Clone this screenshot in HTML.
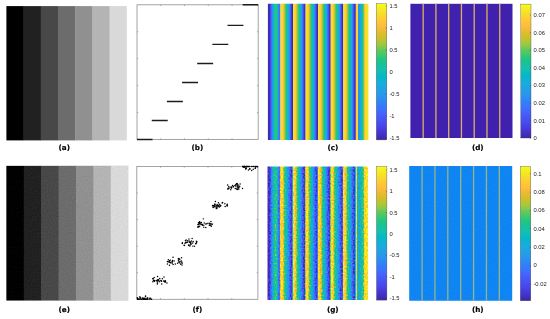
<!DOCTYPE html>
<html lang="en"><head><meta charset="utf-8"><title>Figure</title>
<style>html,body{margin:0;padding:0;background:#fff}body{width:550px;height:319px;overflow:hidden}svg{display:block}.lab{font-family:"DejaVu Sans","Liberation Sans",sans-serif;font-weight:bold;font-size:7.2px;fill:#000;stroke:#000;stroke-width:0.18px;text-anchor:middle}.tk{font-family:"Liberation Sans",sans-serif;font-size:5.8px;fill:#1c1c1c}</style></head><body>
<svg width="550" height="319" viewBox="0 0 550 319">
<defs>
<linearGradient id="cb" x1="0" y1="0" x2="0" y2="1">
<stop offset="0" stop-color="#f9fb15"/>
<stop offset="0.03" stop-color="#f6ef20"/>
<stop offset="0.06" stop-color="#f5e327"/>
<stop offset="0.09" stop-color="#f9d62d"/>
<stop offset="0.12" stop-color="#feca33"/>
<stop offset="0.16" stop-color="#febe3c"/>
<stop offset="0.19" stop-color="#f1ba37"/>
<stop offset="0.22" stop-color="#debc2a"/>
<stop offset="0.25" stop-color="#c8c129"/>
<stop offset="0.28" stop-color="#afc637"/>
<stop offset="0.31" stop-color="#8dc949"/>
<stop offset="0.34" stop-color="#60c95b"/>
<stop offset="0.38" stop-color="#3bc86f"/>
<stop offset="0.41" stop-color="#20c582"/>
<stop offset="0.44" stop-color="#16c395"/>
<stop offset="0.47" stop-color="#17c0a7"/>
<stop offset="0.5" stop-color="#10beb9"/>
<stop offset="0.53" stop-color="#01b9c6"/>
<stop offset="0.56" stop-color="#0cb3d3"/>
<stop offset="0.59" stop-color="#1aacdd"/>
<stop offset="0.62" stop-color="#21a3e3"/>
<stop offset="0.66" stop-color="#269ae9"/>
<stop offset="0.69" stop-color="#2c90f0"/>
<stop offset="0.72" stop-color="#2e85f8"/>
<stop offset="0.75" stop-color="#347afd"/>
<stop offset="0.78" stop-color="#3f6efe"/>
<stop offset="0.81" stop-color="#4562fc"/>
<stop offset="0.84" stop-color="#4757f7"/>
<stop offset="0.88" stop-color="#484cef"/>
<stop offset="0.91" stop-color="#4741e5"/>
<stop offset="0.94" stop-color="#4536d5"/>
<stop offset="0.97" stop-color="#422ebf"/>
<stop offset="1" stop-color="#3e26a8"/>
</linearGradient>
<linearGradient id="sw" x1="0" y1="0" x2="1" y2="0">
<stop offset="0" stop-color="#f6e028"/>
<stop offset="0.07" stop-color="#f6de29"/>
<stop offset="0.15" stop-color="#f7dc2a"/>
<stop offset="0.2" stop-color="#fdcc32"/>
<stop offset="0.24" stop-color="#fdbd3d"/>
<stop offset="0.28" stop-color="#e4bb2c"/>
<stop offset="0.31" stop-color="#c1c32d"/>
<stop offset="0.34" stop-color="#9ec941"/>
<stop offset="0.37" stop-color="#66c959"/>
<stop offset="0.41" stop-color="#45c868"/>
<stop offset="0.45" stop-color="#2dc778"/>
<stop offset="0.49" stop-color="#18c48e"/>
<stop offset="0.53" stop-color="#17c1a2"/>
<stop offset="0.56" stop-color="#0abdbd"/>
<stop offset="0.6" stop-color="#0ab4d2"/>
<stop offset="0.64" stop-color="#1caadf"/>
<stop offset="0.67" stop-color="#249fe6"/>
<stop offset="0.71" stop-color="#2c8ff1"/>
<stop offset="0.74" stop-color="#317efb"/>
<stop offset="0.78" stop-color="#4465fd"/>
<stop offset="0.83" stop-color="#484ef1"/>
<stop offset="0.86" stop-color="#463ee1"/>
<stop offset="0.9" stop-color="#4330c5"/>
<stop offset="0.95" stop-color="#402bb7"/>
<stop offset="1" stop-color="#3e26a8"/>
</linearGradient>
<linearGradient id="sf" x1="0" y1="0" x2="1" y2="0">
<stop offset="0" stop-color="#3e26a8"/>
<stop offset="0.07" stop-color="#402ab4"/>
<stop offset="0.15" stop-color="#422ebe"/>
<stop offset="0.21" stop-color="#4848ec"/>
<stop offset="0.27" stop-color="#4367fd"/>
<stop offset="0.34" stop-color="#2d88f6"/>
<stop offset="0.4" stop-color="#20a4e3"/>
<stop offset="0.45" stop-color="#0ab4d2"/>
<stop offset="0.5" stop-color="#10beb9"/>
<stop offset="0.54" stop-color="#16c19d"/>
<stop offset="0.58" stop-color="#24c67f"/>
<stop offset="0.64" stop-color="#24c67f"/>
<stop offset="0.7" stop-color="#24c67f"/>
<stop offset="0.74" stop-color="#17c0ab"/>
<stop offset="0.78" stop-color="#05b6ce"/>
<stop offset="0.82" stop-color="#259ce7"/>
<stop offset="0.86" stop-color="#347afd"/>
<stop offset="0.93" stop-color="#3d70ff"/>
<stop offset="1" stop-color="#4367fd"/>
</linearGradient>
<linearGradient id="sl" x1="0" y1="0" x2="1" y2="0">
<stop offset="0" stop-color="#fad42e"/>
<stop offset="0.07" stop-color="#fad42e"/>
<stop offset="0.14" stop-color="#fad42e"/>
<stop offset="0.17" stop-color="#31c775"/>
<stop offset="0.2" stop-color="#2895ec"/>
<stop offset="0.25" stop-color="#2994ed"/>
<stop offset="0.3" stop-color="#2a92ee"/>
<stop offset="0.36" stop-color="#22a1e4"/>
<stop offset="0.42" stop-color="#15afd9"/>
<stop offset="0.48" stop-color="#10beb9"/>
<stop offset="0.55" stop-color="#1ac48b"/>
<stop offset="0.59" stop-color="#40c86c"/>
<stop offset="0.64" stop-color="#82c94d"/>
<stop offset="0.67" stop-color="#debd29"/>
<stop offset="0.7" stop-color="#fdcc32"/>
<stop offset="0.75" stop-color="#fad62d"/>
<stop offset="0.8" stop-color="#f6e028"/>
<stop offset="0.9" stop-color="#f5e227"/>
<stop offset="1" stop-color="#f5e427"/>
</linearGradient>
<linearGradient id="gw" x1="0" y1="0" x2="1" y2="0">
<stop offset="0" stop-color="#e8e8e8"/>
<stop offset="0.09" stop-color="#e9e9e9"/>
<stop offset="0.18" stop-color="#ebebeb"/>
<stop offset="0.22" stop-color="#dbdbdb"/>
<stop offset="0.26" stop-color="#cccccc"/>
<stop offset="0.3" stop-color="#b8b8b8"/>
<stop offset="0.33" stop-color="#a3a3a3"/>
<stop offset="0.39" stop-color="#959595"/>
<stop offset="0.45" stop-color="#878787"/>
<stop offset="0.52" stop-color="#777777"/>
<stop offset="0.58" stop-color="#666666"/>
<stop offset="0.64" stop-color="#555555"/>
<stop offset="0.7" stop-color="#454545"/>
<stop offset="0.77" stop-color="#303030"/>
<stop offset="0.85" stop-color="#1c1c1c"/>
<stop offset="0.93" stop-color="#121212"/>
<stop offset="1" stop-color="#080808"/>
</linearGradient>
<linearGradient id="gf" x1="0" y1="0" x2="1" y2="0">
<stop offset="0" stop-color="#000000"/>
<stop offset="0.07" stop-color="#040404"/>
<stop offset="0.15" stop-color="#080808"/>
<stop offset="0.21" stop-color="#1d1d1d"/>
<stop offset="0.27" stop-color="#333333"/>
<stop offset="0.34" stop-color="#4a4a4a"/>
<stop offset="0.4" stop-color="#616161"/>
<stop offset="0.45" stop-color="#707070"/>
<stop offset="0.5" stop-color="#808080"/>
<stop offset="0.54" stop-color="#8c8c8c"/>
<stop offset="0.58" stop-color="#999999"/>
<stop offset="0.64" stop-color="#999999"/>
<stop offset="0.7" stop-color="#999999"/>
<stop offset="0.74" stop-color="#868686"/>
<stop offset="0.78" stop-color="#737373"/>
<stop offset="0.82" stop-color="#595959"/>
<stop offset="0.86" stop-color="#404040"/>
<stop offset="0.93" stop-color="#393939"/>
<stop offset="1" stop-color="#333333"/>
</linearGradient>
<linearGradient id="gl" x1="0" y1="0" x2="1" y2="0">
<stop offset="0" stop-color="#e6e6e6"/>
<stop offset="0.06" stop-color="#e6e6e6"/>
<stop offset="0.12" stop-color="#e6e6e6"/>
<stop offset="0.15" stop-color="#a3a3a3"/>
<stop offset="0.17" stop-color="#616161"/>
<stop offset="0.26" stop-color="#676767"/>
<stop offset="0.35" stop-color="#6e6e6e"/>
<stop offset="0.42" stop-color="#7a7a7a"/>
<stop offset="0.5" stop-color="#878787"/>
<stop offset="0.57" stop-color="#949494"/>
<stop offset="0.64" stop-color="#a1a1a1"/>
<stop offset="0.69" stop-color="#c6c6c6"/>
<stop offset="0.73" stop-color="#ebebeb"/>
<stop offset="0.86" stop-color="#eeeeee"/>
<stop offset="1" stop-color="#f2f2f2"/>
</linearGradient>
<filter id="soft" x="-5%" y="-5%" width="110%" height="110%"><feGaussianBlur stdDeviation="0.45 0"/></filter>
<filter id="nz" x="0" y="0" width="100%" height="100%" color-interpolation-filters="sRGB"><feTurbulence type="fractalNoise" baseFrequency="0.6" numOctaves="1" seed="3" result="t"/><feColorMatrix in="t" type="matrix" values="1 0 0 0 0  1 0 0 0 0  1 0 0 0 0  0 0 0 0 1" result="n"/><feComposite in="SourceGraphic" in2="n" operator="arithmetic" k1="0" k2="1" k3="0.52" k4="-0.26" result="s"/><feComponentTransfer in="s"><feFuncR type="table" tableValues="0.2422 0.2504 0.2578 0.2647 0.2706 0.2751 0.2783 0.2803 0.2813 0.2810 0.2795 0.2760 0.2699 0.2602 0.2440 0.2206 0.1963 0.1834 0.1786 0.1764 0.1687 0.1540 0.1460 0.1380 0.1248 0.1113 0.0952 0.0689 0.0297 0.0036 0.0067 0.0433 0.0790 0.0897 0.0900 0.0866 0.0900 0.1098 0.1508 0.2068 0.2714 0.3478 0.4344 0.5237 0.6139 0.6720 0.7242 0.7738 0.8203 0.8634 0.9035 0.9393 0.9728 0.9956 0.9970 0.9952 0.9892 0.9786 0.9676 0.9610 0.9597 0.9628 0.9691 0.9769"/><feFuncG type="table" tableValues="0.1504 0.1650 0.1818 0.1978 0.2147 0.2342 0.2559 0.2782 0.3006 0.3228 0.3447 0.3667 0.3892 0.4123 0.4358 0.4603 0.4847 0.5074 0.5289 0.5499 0.5703 0.5902 0.6091 0.6276 0.6459 0.6635 0.6798 0.6948 0.7082 0.7203 0.7312 0.7411 0.7475 0.7511 0.7553 0.7605 0.7663 0.7722 0.7773 0.7817 0.7858 0.7884 0.7893 0.7888 0.7871 0.7793 0.7698 0.7598 0.7498 0.7406 0.7330 0.7288 0.7298 0.7434 0.7659 0.7893 0.8136 0.8386 0.8639 0.8890 0.9135 0.9373 0.9606 0.9839"/><feFuncB type="table" tableValues="0.6603 0.7076 0.7511 0.7952 0.8364 0.8710 0.8991 0.9221 0.9414 0.9579 0.9717 0.9829 0.9906 0.9952 0.9988 0.9973 0.9892 0.9798 0.9682 0.9520 0.9359 0.9218 0.9079 0.8973 0.8883 0.8763 0.8598 0.8394 0.8163 0.7917 0.7660 0.7394 0.7083 0.6732 0.6379 0.6021 0.5653 0.5273 0.4888 0.4502 0.4098 0.3700 0.3330 0.2964 0.2605 0.2227 0.1910 0.1646 0.1535 0.1596 0.1774 0.2100 0.2394 0.2371 0.2199 0.2028 0.1885 0.1766 0.1643 0.1537 0.1423 0.1265 0.1064 0.0805"/><feFuncA type="linear" slope="0" intercept="1"/></feComponentTransfer></filter>
<filter id="ng" x="0" y="0" width="100%" height="100%" color-interpolation-filters="sRGB"><feTurbulence type="fractalNoise" baseFrequency="0.8" numOctaves="1" seed="5" result="t"/><feColorMatrix in="t" type="matrix" values="1 0 0 0 0  1 0 0 0 0  1 0 0 0 0  0 0 0 0 1" result="n"/><feComposite in="SourceGraphic" in2="n" operator="arithmetic" k1="0" k2="1" k3="0.1" k4="-0.05"/></filter>
<filter id="ng2" x="0" y="0" width="100%" height="100%" color-interpolation-filters="sRGB"><feTurbulence type="fractalNoise" baseFrequency="0.8" numOctaves="1" seed="9" result="t"/><feColorMatrix in="t" type="matrix" values="1 0 0 0 0  1 0 0 0 0  1 0 0 0 0  0 0 0 0 1" result="n"/><feComposite in="SourceGraphic" in2="n" operator="arithmetic" k1="0" k2="1" k3="0.06" k4="-0.03"/></filter>
</defs>
<rect width="550" height="319" fill="#fff"/>
<g shape-rendering="auto">
<rect x="6.4" y="6.1" width="17.5" height="134.3" fill="#000000"/>
<rect x="23.6" y="6.1" width="17.5" height="134.3" fill="#212121"/>
<rect x="40.8" y="6.1" width="17.5" height="134.3" fill="#484848"/>
<rect x="58" y="6.1" width="17.5" height="134.3" fill="#6c6c6c"/>
<rect x="75.2" y="6.1" width="17.5" height="134.3" fill="#909090"/>
<rect x="92.4" y="6.1" width="17.5" height="134.3" fill="#b4b4b4"/>
<rect x="109.6" y="6.1" width="17.2" height="134.3" fill="#d9d9d9"/>
</g>
<g filter="url(#ng)" shape-rendering="auto">
<rect x="6.4" y="165.9" width="17.69" height="134.6" fill="#000000"/>
<rect x="23.79" y="165.9" width="17.69" height="134.6" fill="#212121"/>
<rect x="41.17" y="165.9" width="17.69" height="134.6" fill="#484848"/>
<rect x="58.56" y="165.9" width="17.69" height="134.6" fill="#6c6c6c"/>
<rect x="75.94" y="165.9" width="17.69" height="134.6" fill="#909090"/>
<rect x="93.33" y="165.9" width="17.69" height="134.6" fill="#b4b4b4"/>
<rect x="110.71" y="165.9" width="17.39" height="134.6" fill="#d9d9d9"/>
</g>
<rect x="137" y="4.8" width="121.2" height="134.7" fill="none" stroke="#8e8e8e" stroke-width="0.8"/>
<path d="M160.76 139.5v-1.2M160.76 4.8v1.2M137 112.56h1.2M258.2 112.56h-1.2M184.53 139.5v-1.2M184.53 4.8v1.2M137 85.62h1.2M258.2 85.62h-1.2M208.29 139.5v-1.2M208.29 4.8v1.2M137 58.68h1.2M258.2 58.68h-1.2M232.06 139.5v-1.2M232.06 4.8v1.2M137 31.74h1.2M258.2 31.74h-1.2" stroke="#777" stroke-width="0.6" fill="none"/>
<path d="M137 139.5h15.55M151.75 120.48h15.95M166.9 101.47h15.95M182.05 82.45h15.95M197.2 63.43h15.95M212.35 44.42h15.95M227.5 25.4h15.95M242.65 4.8h15.55" stroke="#1c1c1c" stroke-width="1.4" fill="none"/>
<rect x="136.8" y="166.5" width="121.1" height="132.8" fill="none" stroke="#8e8e8e" stroke-width="0.8"/>
<path d="M160.55 299.3v-1.2M160.55 166.5v1.2M136.8 272.74h1.2M257.9 272.74h-1.2M184.29 299.3v-1.2M184.29 166.5v1.2M136.8 246.18h1.2M257.9 246.18h-1.2M208.04 299.3v-1.2M208.04 166.5v1.2M136.8 219.62h1.2M257.9 219.62h-1.2M231.78 299.3v-1.2M231.78 166.5v1.2M136.8 193.06h1.2M257.9 193.06h-1.2" stroke="#777" stroke-width="0.6" fill="none"/>
<g fill="#000">
<circle cx="141.7" cy="299.3" r="0.74"/>
<circle cx="137.9" cy="299.3" r="0.74"/>
<circle cx="144.91" cy="298.89" r="0.74"/>
<circle cx="144.48" cy="299.3" r="0.74"/>
<circle cx="137.37" cy="298.67" r="0.74"/>
<circle cx="138.17" cy="299.3" r="0.74"/>
<circle cx="143.23" cy="299.3" r="0.74"/>
<circle cx="140.18" cy="298.48" r="0.74"/>
<circle cx="146.3" cy="299.3" r="0.74"/>
<circle cx="142.8" cy="298.54" r="0.74"/>
<circle cx="151.58" cy="299.3" r="0.74"/>
<circle cx="141.18" cy="299.3" r="0.74"/>
<circle cx="138.98" cy="299.3" r="0.74"/>
<circle cx="149.15" cy="299.3" r="0.74"/>
<circle cx="139.54" cy="297.06" r="0.74"/>
<circle cx="142.44" cy="298.04" r="0.74"/>
<circle cx="145.09" cy="299.3" r="0.74"/>
<circle cx="139.92" cy="299.3" r="0.74"/>
<circle cx="147.1" cy="297.9" r="0.74"/>
<circle cx="145.66" cy="299.3" r="0.74"/>
<circle cx="143.66" cy="298.32" r="0.74"/>
<circle cx="147.38" cy="299.3" r="0.74"/>
<circle cx="140.5" cy="297.34" r="0.74"/>
<circle cx="150.05" cy="298.31" r="0.74"/>
<circle cx="147.84" cy="298.11" r="0.74"/>
<circle cx="138.59" cy="299.3" r="0.74"/>
<circle cx="143.13" cy="299.3" r="0.74"/>
<circle cx="144.2" cy="298.27" r="0.74"/>
<circle cx="137.39" cy="297.8" r="0.74"/>
<circle cx="145.47" cy="296.63" r="0.74"/>
<circle cx="150.05" cy="298.22" r="0.74"/>
<circle cx="145.8" cy="299.3" r="0.74"/>
<circle cx="145.58" cy="295.98" r="0.74"/>
<circle cx="151.1" cy="299.3" r="0.74"/>
<circle cx="143.98" cy="298.97" r="0.74"/>
<circle cx="147.42" cy="298.75" r="0.74"/>
<circle cx="161.73" cy="283.89" r="0.74"/>
<circle cx="156.25" cy="280.41" r="0.74"/>
<circle cx="157.78" cy="280.36" r="0.74"/>
<circle cx="158.93" cy="280.22" r="0.74"/>
<circle cx="154.48" cy="281.02" r="0.74"/>
<circle cx="163.57" cy="280.97" r="0.74"/>
<circle cx="153.9" cy="280.58" r="0.74"/>
<circle cx="165.13" cy="282.34" r="0.74"/>
<circle cx="153.16" cy="278.39" r="0.74"/>
<circle cx="165.31" cy="281.27" r="0.74"/>
<circle cx="164.34" cy="281.51" r="0.74"/>
<circle cx="158.22" cy="279.45" r="0.74"/>
<circle cx="157.37" cy="283.93" r="0.74"/>
<circle cx="154.22" cy="277.54" r="0.74"/>
<circle cx="154.6" cy="280.7" r="0.74"/>
<circle cx="159.28" cy="281.86" r="0.74"/>
<circle cx="160.86" cy="280.54" r="0.74"/>
<circle cx="158.28" cy="280.71" r="0.74"/>
<circle cx="157.53" cy="276.48" r="0.74"/>
<circle cx="162.39" cy="278.75" r="0.74"/>
<circle cx="159.74" cy="278.55" r="0.74"/>
<circle cx="152.75" cy="278.73" r="0.74"/>
<circle cx="165.55" cy="281.24" r="0.74"/>
<circle cx="164.02" cy="276.95" r="0.74"/>
<circle cx="157.88" cy="279.87" r="0.74"/>
<circle cx="161.54" cy="281.05" r="0.74"/>
<circle cx="152.88" cy="281.67" r="0.74"/>
<circle cx="154.39" cy="281.06" r="0.74"/>
<circle cx="157.09" cy="280.59" r="0.74"/>
<circle cx="154.23" cy="280.56" r="0.74"/>
<circle cx="153.47" cy="280.28" r="0.74"/>
<circle cx="165.17" cy="280.86" r="0.74"/>
<circle cx="161.23" cy="281.37" r="0.74"/>
<circle cx="157.2" cy="281.65" r="0.74"/>
<circle cx="157.45" cy="283.06" r="0.74"/>
<circle cx="166.97" cy="282.99" r="0.74"/>
<circle cx="174.13" cy="261.04" r="0.74"/>
<circle cx="168.62" cy="261.88" r="0.74"/>
<circle cx="172.26" cy="261.49" r="0.74"/>
<circle cx="169.52" cy="265.17" r="0.74"/>
<circle cx="167.42" cy="263.91" r="0.74"/>
<circle cx="169.29" cy="261.13" r="0.74"/>
<circle cx="175.3" cy="263.98" r="0.74"/>
<circle cx="181.89" cy="262.18" r="0.74"/>
<circle cx="180.14" cy="261.34" r="0.74"/>
<circle cx="172.63" cy="260.48" r="0.74"/>
<circle cx="169.6" cy="262.11" r="0.74"/>
<circle cx="178.87" cy="259.6" r="0.74"/>
<circle cx="172.07" cy="262.36" r="0.74"/>
<circle cx="181.98" cy="265.04" r="0.74"/>
<circle cx="179.98" cy="262.95" r="0.74"/>
<circle cx="178.27" cy="258.68" r="0.74"/>
<circle cx="170.51" cy="260.13" r="0.74"/>
<circle cx="167.51" cy="261.62" r="0.74"/>
<circle cx="167.5" cy="261.55" r="0.74"/>
<circle cx="177.56" cy="263.17" r="0.74"/>
<circle cx="181.55" cy="257.8" r="0.74"/>
<circle cx="182.03" cy="263.18" r="0.74"/>
<circle cx="181.53" cy="260.97" r="0.74"/>
<circle cx="170.51" cy="262.76" r="0.74"/>
<circle cx="170.05" cy="262.52" r="0.74"/>
<circle cx="180.7" cy="264.22" r="0.74"/>
<circle cx="179.8" cy="259.21" r="0.74"/>
<circle cx="179.18" cy="262.14" r="0.74"/>
<circle cx="168.36" cy="259.7" r="0.74"/>
<circle cx="178.92" cy="258.46" r="0.74"/>
<circle cx="178.43" cy="260.69" r="0.74"/>
<circle cx="179.02" cy="261.96" r="0.74"/>
<circle cx="172.11" cy="263.31" r="0.74"/>
<circle cx="173.07" cy="257.24" r="0.74"/>
<circle cx="173.15" cy="264.53" r="0.74"/>
<circle cx="169.65" cy="260.85" r="0.74"/>
<circle cx="184.14" cy="245.33" r="0.74"/>
<circle cx="194.42" cy="246.23" r="0.74"/>
<circle cx="184.43" cy="245.39" r="0.74"/>
<circle cx="192.16" cy="238.58" r="0.74"/>
<circle cx="187.52" cy="242.15" r="0.74"/>
<circle cx="182.43" cy="242.77" r="0.74"/>
<circle cx="196.91" cy="241.76" r="0.74"/>
<circle cx="196.35" cy="241.28" r="0.74"/>
<circle cx="188.78" cy="245.39" r="0.74"/>
<circle cx="185.41" cy="240.63" r="0.74"/>
<circle cx="186.02" cy="242.7" r="0.74"/>
<circle cx="191.09" cy="244.34" r="0.74"/>
<circle cx="186.14" cy="242.22" r="0.74"/>
<circle cx="195.99" cy="243.52" r="0.74"/>
<circle cx="187.57" cy="240.76" r="0.74"/>
<circle cx="195.9" cy="243.67" r="0.74"/>
<circle cx="188.58" cy="244.9" r="0.74"/>
<circle cx="190.26" cy="242.01" r="0.74"/>
<circle cx="190.14" cy="244.98" r="0.74"/>
<circle cx="184.98" cy="243.28" r="0.74"/>
<circle cx="182.27" cy="243.39" r="0.74"/>
<circle cx="189.38" cy="242" r="0.74"/>
<circle cx="193.19" cy="241.56" r="0.74"/>
<circle cx="190.06" cy="242.5" r="0.74"/>
<circle cx="190.62" cy="243.24" r="0.74"/>
<circle cx="190.69" cy="242.22" r="0.74"/>
<circle cx="185.97" cy="242.53" r="0.74"/>
<circle cx="189.9" cy="246.11" r="0.74"/>
<circle cx="190.72" cy="243.3" r="0.74"/>
<circle cx="188.92" cy="239.09" r="0.74"/>
<circle cx="191.48" cy="240.9" r="0.74"/>
<circle cx="192.7" cy="242.98" r="0.74"/>
<circle cx="189.06" cy="241.05" r="0.74"/>
<circle cx="196.46" cy="242.63" r="0.74"/>
<circle cx="192.8" cy="246.12" r="0.74"/>
<circle cx="186.14" cy="240.05" r="0.74"/>
<circle cx="205.82" cy="227.54" r="0.74"/>
<circle cx="199.43" cy="223.1" r="0.74"/>
<circle cx="199.19" cy="223.65" r="0.74"/>
<circle cx="200.99" cy="224.56" r="0.74"/>
<circle cx="198.46" cy="222.78" r="0.74"/>
<circle cx="210.93" cy="221.55" r="0.74"/>
<circle cx="199.69" cy="223.75" r="0.74"/>
<circle cx="199.51" cy="221.72" r="0.74"/>
<circle cx="210.71" cy="225.55" r="0.74"/>
<circle cx="211.77" cy="224.05" r="0.74"/>
<circle cx="203.38" cy="218.87" r="0.74"/>
<circle cx="209.95" cy="224.74" r="0.74"/>
<circle cx="199.79" cy="222.34" r="0.74"/>
<circle cx="202.48" cy="225.21" r="0.74"/>
<circle cx="200.31" cy="223.1" r="0.74"/>
<circle cx="197.64" cy="226.92" r="0.74"/>
<circle cx="205.74" cy="223.99" r="0.74"/>
<circle cx="202.37" cy="224.43" r="0.74"/>
<circle cx="206.79" cy="223.65" r="0.74"/>
<circle cx="212.26" cy="224.26" r="0.74"/>
<circle cx="209.28" cy="225.14" r="0.74"/>
<circle cx="201.37" cy="224.16" r="0.74"/>
<circle cx="197.95" cy="224.57" r="0.74"/>
<circle cx="199.31" cy="222.9" r="0.74"/>
<circle cx="203.74" cy="227.13" r="0.74"/>
<circle cx="201.26" cy="222.55" r="0.74"/>
<circle cx="199.61" cy="226.35" r="0.74"/>
<circle cx="207.95" cy="223.17" r="0.74"/>
<circle cx="198.7" cy="226.88" r="0.74"/>
<circle cx="203.79" cy="225.28" r="0.74"/>
<circle cx="198.45" cy="226.67" r="0.74"/>
<circle cx="209.48" cy="223.34" r="0.74"/>
<circle cx="198.62" cy="224.72" r="0.74"/>
<circle cx="210.41" cy="223.78" r="0.74"/>
<circle cx="204.22" cy="223.09" r="0.74"/>
<circle cx="211.38" cy="226.24" r="0.74"/>
<circle cx="216.54" cy="207.07" r="0.74"/>
<circle cx="216.1" cy="207.16" r="0.74"/>
<circle cx="214.14" cy="205.86" r="0.74"/>
<circle cx="215.54" cy="206.05" r="0.74"/>
<circle cx="217.21" cy="204.53" r="0.74"/>
<circle cx="216.88" cy="208.42" r="0.74"/>
<circle cx="220.06" cy="206.29" r="0.74"/>
<circle cx="212.76" cy="207.05" r="0.74"/>
<circle cx="216.28" cy="208.47" r="0.74"/>
<circle cx="220.83" cy="205.84" r="0.74"/>
<circle cx="215.36" cy="201.41" r="0.74"/>
<circle cx="214.1" cy="206.22" r="0.74"/>
<circle cx="224.88" cy="203.64" r="0.74"/>
<circle cx="225.12" cy="206.43" r="0.74"/>
<circle cx="218.44" cy="202.81" r="0.74"/>
<circle cx="227.36" cy="205.44" r="0.74"/>
<circle cx="217.68" cy="206.95" r="0.74"/>
<circle cx="222.11" cy="203.11" r="0.74"/>
<circle cx="218.61" cy="205.21" r="0.74"/>
<circle cx="214.45" cy="206.05" r="0.74"/>
<circle cx="213.56" cy="205.48" r="0.74"/>
<circle cx="214.96" cy="204.18" r="0.74"/>
<circle cx="213.77" cy="207.53" r="0.74"/>
<circle cx="222.64" cy="202.5" r="0.74"/>
<circle cx="216.76" cy="205.63" r="0.74"/>
<circle cx="219.44" cy="207.06" r="0.74"/>
<circle cx="214.87" cy="204.23" r="0.74"/>
<circle cx="227.05" cy="206.03" r="0.74"/>
<circle cx="227.21" cy="204.27" r="0.74"/>
<circle cx="227.11" cy="205.17" r="0.74"/>
<circle cx="217.17" cy="205.51" r="0.74"/>
<circle cx="218.26" cy="205.62" r="0.74"/>
<circle cx="219.67" cy="204.35" r="0.74"/>
<circle cx="220.13" cy="205.54" r="0.74"/>
<circle cx="212.56" cy="205.49" r="0.74"/>
<circle cx="218.54" cy="206.34" r="0.74"/>
<circle cx="228.26" cy="188.33" r="0.74"/>
<circle cx="231.15" cy="187.03" r="0.74"/>
<circle cx="236.49" cy="183.86" r="0.74"/>
<circle cx="237.58" cy="186.26" r="0.74"/>
<circle cx="238.46" cy="188.11" r="0.74"/>
<circle cx="232.56" cy="185.58" r="0.74"/>
<circle cx="242.53" cy="188.52" r="0.74"/>
<circle cx="237.36" cy="189.14" r="0.74"/>
<circle cx="228.29" cy="188.75" r="0.74"/>
<circle cx="237.12" cy="183.55" r="0.74"/>
<circle cx="238.73" cy="187.19" r="0.74"/>
<circle cx="235.55" cy="185.9" r="0.74"/>
<circle cx="235.26" cy="188.47" r="0.74"/>
<circle cx="240.13" cy="184.01" r="0.74"/>
<circle cx="236.47" cy="188.94" r="0.74"/>
<circle cx="238.12" cy="185.11" r="0.74"/>
<circle cx="231.11" cy="187.75" r="0.74"/>
<circle cx="233.09" cy="187" r="0.74"/>
<circle cx="229.21" cy="187.99" r="0.74"/>
<circle cx="237.13" cy="184.84" r="0.74"/>
<circle cx="237.1" cy="185.93" r="0.74"/>
<circle cx="227.68" cy="184.92" r="0.74"/>
<circle cx="239.7" cy="186.79" r="0.74"/>
<circle cx="235.73" cy="184.68" r="0.74"/>
<circle cx="237.61" cy="189.5" r="0.74"/>
<circle cx="231.44" cy="188" r="0.74"/>
<circle cx="228.75" cy="186.53" r="0.74"/>
<circle cx="230.73" cy="189.71" r="0.74"/>
<circle cx="238.82" cy="188.89" r="0.74"/>
<circle cx="233.42" cy="186.49" r="0.74"/>
<circle cx="234.88" cy="185.57" r="0.74"/>
<circle cx="236.96" cy="184" r="0.74"/>
<circle cx="237.35" cy="187.71" r="0.74"/>
<circle cx="231.47" cy="187.29" r="0.74"/>
<circle cx="238.88" cy="186.03" r="0.74"/>
<circle cx="227.81" cy="189.01" r="0.74"/>
<circle cx="243.68" cy="166.5" r="0.74"/>
<circle cx="253.24" cy="169.17" r="0.74"/>
<circle cx="252.99" cy="166.5" r="0.74"/>
<circle cx="249.8" cy="168.6" r="0.74"/>
<circle cx="249.82" cy="169.3" r="0.74"/>
<circle cx="245.78" cy="169.08" r="0.74"/>
<circle cx="257.57" cy="166.81" r="0.74"/>
<circle cx="249.71" cy="166.5" r="0.74"/>
<circle cx="255.17" cy="168.43" r="0.74"/>
<circle cx="246.83" cy="166.5" r="0.74"/>
<circle cx="245.94" cy="167.67" r="0.74"/>
<circle cx="251.56" cy="166.5" r="0.74"/>
<circle cx="244.91" cy="166.5" r="0.74"/>
<circle cx="244.77" cy="166.5" r="0.74"/>
<circle cx="255.18" cy="166.5" r="0.74"/>
<circle cx="253.41" cy="166.5" r="0.74"/>
<circle cx="246.27" cy="168.16" r="0.74"/>
<circle cx="243.14" cy="166.5" r="0.74"/>
<circle cx="242.82" cy="166.5" r="0.74"/>
<circle cx="247.33" cy="166.6" r="0.74"/>
<circle cx="244.89" cy="166.5" r="0.74"/>
<circle cx="255.48" cy="167.8" r="0.74"/>
<circle cx="242.79" cy="166.52" r="0.74"/>
<circle cx="244.58" cy="166.5" r="0.74"/>
<circle cx="256.79" cy="166.5" r="0.74"/>
<circle cx="247.15" cy="166.5" r="0.74"/>
<circle cx="248.4" cy="166.5" r="0.74"/>
<circle cx="251.68" cy="170.61" r="0.74"/>
<circle cx="248.22" cy="166.5" r="0.74"/>
<circle cx="243.49" cy="167.13" r="0.74"/>
<circle cx="244.3" cy="167.25" r="0.74"/>
<circle cx="256.92" cy="166.5" r="0.74"/>
<circle cx="246.54" cy="166.5" r="0.74"/>
<circle cx="245.64" cy="168.64" r="0.74"/>
<circle cx="248.41" cy="170.1" r="0.74"/>
<circle cx="255.05" cy="166.5" r="0.74"/>
</g>
<svg x="267.9" y="3.8" width="100.5" height="136.1" viewBox="267.9 3.8 100.5 136.1" overflow="hidden">
<g filter="url(#soft)">
<rect x="265.4" y="1.8" width="3" height="140.1" fill="#3e26a8"/>
<rect x="367.9" y="1.8" width="3" height="140.1" fill="#f5e427"/>
<rect x="267.9" y="1.8" width="12.61" height="140.1" fill="url(#sf)"/>
<rect x="280.46" y="1.8" width="12.61" height="140.1" fill="url(#sw)"/>
<rect x="293.02" y="1.8" width="12.61" height="140.1" fill="url(#sw)"/>
<rect x="305.59" y="1.8" width="12.61" height="140.1" fill="url(#sw)"/>
<rect x="318.15" y="1.8" width="12.61" height="140.1" fill="url(#sw)"/>
<rect x="330.71" y="1.8" width="12.61" height="140.1" fill="url(#sw)"/>
<rect x="343.27" y="1.8" width="12.61" height="140.1" fill="url(#sw)"/>
<rect x="355.84" y="1.8" width="12.56" height="140.1" fill="url(#sl)"/>
</g>
</svg>
<rect x="376.3" y="3.8" width="10.5" height="136.1" fill="url(#cb)" stroke="#444" stroke-width="0.35"/>
<path d="M386.8 6h-1.1M386.8 28.03h-1.1M386.8 50.06h-1.1M386.8 72.09h-1.1M386.8 94.12h-1.1M386.8 116.15h-1.1M386.8 138.18h-1.1" stroke="#333" stroke-width="0.4" fill="none"/>
<text class="tk" x="389.4" y="7.85">1.5</text>
<text class="tk" x="389.4" y="29.88">1</text>
<text class="tk" x="389.4" y="51.91">0.5</text>
<text class="tk" x="389.4" y="73.94">0</text>
<text class="tk" x="389.4" y="95.97">-0.5</text>
<text class="tk" x="389.4" y="118">-1</text>
<text class="tk" x="389.4" y="140.03">-1.5</text>
<svg x="267.5" y="166.6" width="100.5" height="133.5" viewBox="267.5 166.6 100.5 133.5" overflow="hidden">
<g filter="url(#nz)">
<rect x="265" y="164.6" width="3" height="137.5" fill="#000"/>
<rect x="367.5" y="164.6" width="3" height="137.5" fill="#f2f2f2"/>
<rect x="267.5" y="164.6" width="12.61" height="137.5" fill="url(#gf)"/>
<rect x="280.06" y="164.6" width="12.61" height="137.5" fill="url(#gw)"/>
<rect x="292.62" y="164.6" width="12.61" height="137.5" fill="url(#gw)"/>
<rect x="305.19" y="164.6" width="12.61" height="137.5" fill="url(#gw)"/>
<rect x="317.75" y="164.6" width="12.61" height="137.5" fill="url(#gw)"/>
<rect x="330.31" y="164.6" width="12.61" height="137.5" fill="url(#gw)"/>
<rect x="342.88" y="164.6" width="12.61" height="137.5" fill="url(#gw)"/>
<rect x="355.44" y="164.6" width="12.56" height="137.5" fill="url(#gl)"/>
</g>
</svg>
<rect x="376.5" y="166.6" width="10.4" height="133.5" fill="url(#cb)" stroke="#444" stroke-width="0.35"/>
<path d="M386.9 170h-1.1M386.9 191.33h-1.1M386.9 212.66h-1.1M386.9 233.99h-1.1M386.9 255.32h-1.1M386.9 276.65h-1.1M386.9 297.98h-1.1" stroke="#333" stroke-width="0.4" fill="none"/>
<text class="tk" x="389.5" y="171.85">1.5</text>
<text class="tk" x="389.5" y="193.18">1</text>
<text class="tk" x="389.5" y="214.51">0.5</text>
<text class="tk" x="389.5" y="235.84">0</text>
<text class="tk" x="389.5" y="257.17">-0.5</text>
<text class="tk" x="389.5" y="278.5">-1</text>
<text class="tk" x="389.5" y="299.83">-1.5</text>
<rect x="410.4" y="3.8" width="102.1" height="134.2" fill="#4021ae"/>
<path d="M423.16 3.8V138M435.92 3.8V138M448.69 3.8V138M461.45 3.8V138M474.21 3.8V138M486.98 3.8V138M499.74 3.8V138" stroke="#dcae64" stroke-width="1.3" fill="none" filter="url(#soft)"/>
<rect x="520.8" y="4.1" width="10.2" height="133.9" fill="url(#cb)" stroke="#444" stroke-width="0.35"/>
<path d="M531 15.1h-1.1M531 32.7h-1.1M531 50.3h-1.1M531 67.9h-1.1M531 85.5h-1.1M531 103.1h-1.1M531 120.7h-1.1M531 138.3h-1.1" stroke="#333" stroke-width="0.4" fill="none"/>
<text class="tk" x="533.6" y="16.95">0.07</text>
<text class="tk" x="533.6" y="34.55">0.06</text>
<text class="tk" x="533.6" y="52.15">0.05</text>
<text class="tk" x="533.6" y="69.75">0.04</text>
<text class="tk" x="533.6" y="87.35">0.03</text>
<text class="tk" x="533.6" y="104.95">0.02</text>
<text class="tk" x="533.6" y="122.55">0.01</text>
<text class="tk" x="533.6" y="140.15">0</text>
<svg x="409.2" y="166.1" width="103" height="134.7" viewBox="409.2 166.1 103 134.7" overflow="hidden">
<rect x="407.2" y="164.1" width="107" height="138.7" fill="#0e85f2" filter="url(#ng2)"/>
<path d="M422.07 166.1V300.8M434.95 166.1V300.8M447.82 166.1V300.8M460.7 166.1V300.8M473.58 166.1V300.8M486.45 166.1V300.8M499.33 166.1V300.8" stroke="#9cb488" stroke-width="1.25" fill="none" filter="url(#soft)"/>
</svg>
<rect x="520.3" y="166.5" width="10.5" height="134.3" fill="url(#cb)" stroke="#444" stroke-width="0.35"/>
<path d="M530.8 173.8h-1.1M530.8 192.16h-1.1M530.8 210.52h-1.1M530.8 228.88h-1.1M530.8 247.24h-1.1M530.8 265.6h-1.1M530.8 283.96h-1.1" stroke="#333" stroke-width="0.4" fill="none"/>
<text class="tk" x="533.4" y="175.65">0.1</text>
<text class="tk" x="533.4" y="194.01">0.08</text>
<text class="tk" x="533.4" y="212.37">0.06</text>
<text class="tk" x="533.4" y="230.73">0.04</text>
<text class="tk" x="533.4" y="249.09">0.02</text>
<text class="tk" x="533.4" y="267.45">0</text>
<text class="tk" x="533.4" y="285.81">-0.02</text>
<text class="lab" x="64.3" y="150.2">(a)</text>
<text class="lab" x="197.4" y="150.2">(b)</text>
<text class="lab" x="332.8" y="150.2">(c)</text>
<text class="lab" x="477.8" y="150.2">(d)</text>
<text class="lab" x="64.3" y="312.2">(e)</text>
<text class="lab" x="197.4" y="312.2">(f)</text>
<text class="lab" x="332.8" y="312.2">(g)</text>
<text class="lab" x="477.8" y="312.2">(h)</text>
</svg></body></html>
